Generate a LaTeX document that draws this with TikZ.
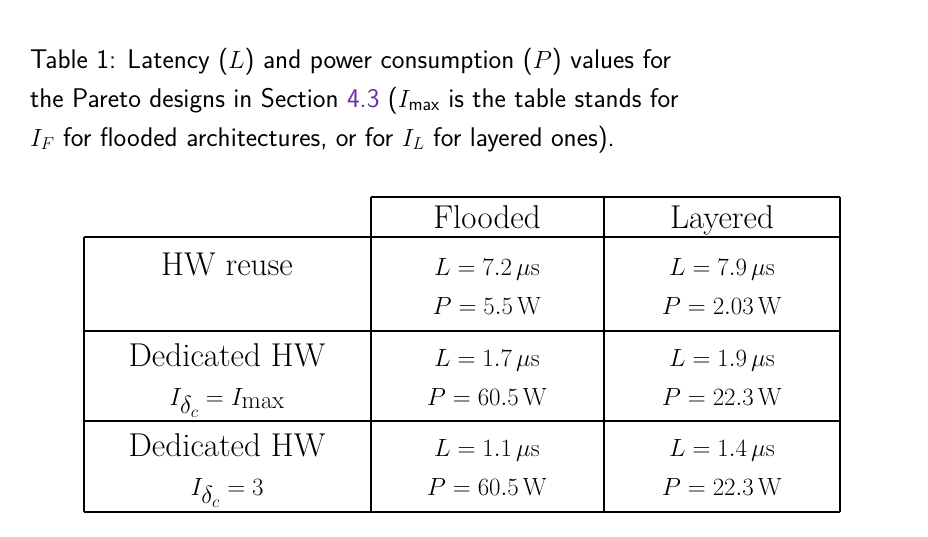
\documentclass[tikz,border=0pt]{standalone}
\usepackage{amsmath}
\definecolor{refc}{RGB}{110,50,160}
\begin{document}
\begin{tikzpicture}[x=1pt,y=-1pt,
  captxt/.style={anchor=base west,inner sep=0,font=\sffamily\fontsize{27}{32}\selectfont},
  cell/.style={anchor=base,inner sep=0,font=\fontsize{33}{38}\selectfont},
  rule/.style={line width=1.1pt}]
\useasboundingbox (0,0) rectangle (928,536);
\node[captxt] (c1) at (30,68) {Table 1: Latency ($L$) and power consumption ($P$) values for};
\node[captxt] (c2) at (30,107) {the Pareto designs in Section \textcolor{refc}{4.3} ($I_{\textsf{max}}$ is the table stands for};
\node[captxt] (c3) at (30,146) {$I_F$ for flooded architectures, or for $I_L$ for layered ones).};
% grid
\draw[rule] (371,197) -- (840,197);
\draw[rule] (84,237) -- (840,237);
\draw[rule] (84,331) -- (840,331);
\draw[rule] (84,421) -- (840,421);
\draw[rule] (84,512) -- (840,512);
\draw[rule] (84,237) -- (84,512);
\draw[rule] (371,197) -- (371,512);
\draw[rule] (604,197) -- (604,512);
\draw[rule] (840,197) -- (840,512);
% header
\node[cell] (h1) at (487,228) {Flooded};
\node[cell] (h2) at (722,228) {Layered};
% row 1
\node[cell] (r1a) at (227,275) {HW reuse};
\node[cell] (r1b) at (487,275) {$L=7.2\,\mu\mathrm{s}$};
\node[cell] (r1c) at (487,314) {$P=5.5\,\mathrm{W}$};
\node[cell] (r1d) at (722,275) {$L=7.9\,\mu\mathrm{s}$};
\node[cell] (r1e) at (722,314) {$P=2.03\,\mathrm{W}$};
% row 2
\node[cell] (r2a) at (227,366) {Dedicated HW};
\node[cell] (r2b) at (227,405) {$I_{\delta_c}=I_{\max}$};
\node[cell] (r2c) at (487,366) {$L=1.7\,\mu\mathrm{s}$};
\node[cell] (r2d) at (487,405) {$P=60.5\,\mathrm{W}$};
\node[cell] (r2e) at (722,366) {$L=1.9\,\mu\mathrm{s}$};
\node[cell] (r2f) at (722,405) {$P=22.3\,\mathrm{W}$};
% row 3
\node[cell] (r3a) at (227,456) {Dedicated HW};
\node[cell] (r3b) at (227,495) {$I_{\delta_c}=3$};
\node[cell] (r3c) at (487,456) {$L=1.1\,\mu\mathrm{s}$};
\node[cell] (r3d) at (487,495) {$P=60.5\,\mathrm{W}$};
\node[cell] (r3e) at (722,456) {$L=1.4\,\mu\mathrm{s}$};
\node[cell] (r3f) at (722,495) {$P=22.3\,\mathrm{W}$};
\end{tikzpicture}
\end{document}
